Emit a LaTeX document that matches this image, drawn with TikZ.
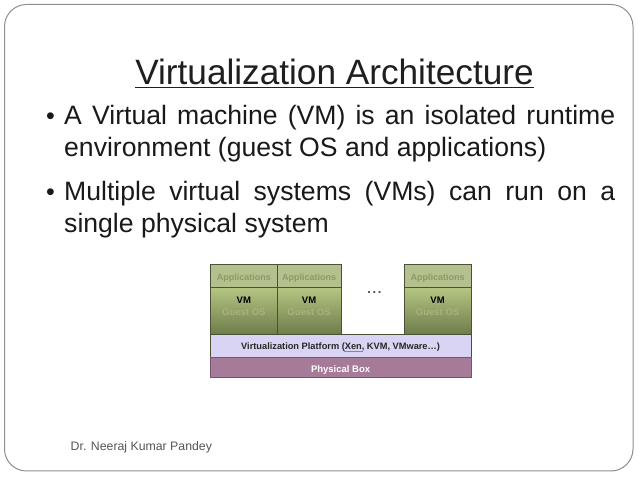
\documentclass[tikz,border=0pt]{standalone}
\usepackage{fontspec}
\setmainfont{Liberation Sans}
\definecolor{frameC}{HTML}{8E8E8E}
\definecolor{appC}{HTML}{B4C08E}
\definecolor{appT}{HTML}{8C9A66}
\definecolor{vmTop}{HTML}{B5C683}
\definecolor{vmBot}{HTML}{6E7C4A}
\definecolor{guestT}{HTML}{A8B380}
\definecolor{edgeC}{HTML}{4A5236}
\definecolor{platC}{HTML}{DAD4F4}
\definecolor{physC}{HTML}{A67A99}
\definecolor{footC}{HTML}{555555}
\newcommand{\lowtext}[2]{\raisebox{-#1pt}[0pt][0pt]{#2}}
\tikzset{
  appbox/.style={draw=edgeC,line width=.7pt,fill=appC,font=\bfseries\fontsize{9}{11}\selectfont,text=appT,anchor=north west,inner sep=0pt,align=center},
  vmbox/.style={draw=edgeC,line width=.7pt,top color=vmTop,bottom color=vmBot,anchor=north west,inner sep=0pt,align=center},
  bodytext/.style={anchor=north west,inner sep=0pt,text width=551pt,align=justify,font=\fontsize{26.6}{32}\selectfont,text=black!90},
  bulletmark/.style={anchor=base west,inner sep=0pt,font=\fontsize{25}{26}\selectfont,text=black!90},
}
\begin{document}
\begin{tikzpicture}[x=1pt,y=-1pt]
\useasboundingbox (0,0) rectangle (638,478);
\fill[white] (0,0) rectangle (638,478);
\draw[frameC,line width=1pt,rounded corners=22pt] (4.5,4.5) rectangle (633,471);
\node[anchor=base,inner sep=0pt,font=\fontsize{35.2}{40}\selectfont,text=black!88] (title) at (334.5,85) {\underline{Virtualization Architecture}};
\node[bulletmark] (b1) at (46,125) {•};
\node[bodytext] (t1) at (64,105) {A Virtual machine (VM) is an isolated runtime\linebreak environment (guest OS and applications)};
\node[bulletmark] (b2) at (46,201) {•};
\node[bodytext] (t2) at (64,181) {Multiple virtual systems (VMs) can run on a\linebreak single physical system};
% applications
\node[appbox,minimum width=67pt,minimum height=22.5pt] (a1) at (210,264.5) {\lowtext{4.5}{Applications}};
\node[appbox,minimum width=63.5pt,minimum height=22.5pt] (a2) at (277,264.5) {\lowtext{4.5}{Applications}};
\node[appbox,minimum width=66.5pt,minimum height=22.5pt] (a3) at (404,264.5) {\lowtext{4.5}{Applications}};
% vms
\node[vmbox,minimum width=67pt,minimum height=47pt] (v1) at (210,287) {};
\node[vmbox,minimum width=63.5pt,minimum height=47pt] (v2) at (277,287) {};
\node[vmbox,minimum width=66.5pt,minimum height=47pt] (v3) at (404,287) {};
\foreach \n in {v1,v2,v3}{
  \node[font=\bfseries\fontsize{9.5}{11}\selectfont,inner sep=0pt] (\n l) at ([yshift=-13pt]\n.north) {VM};
  \node[font=\bfseries\fontsize{9.5}{11}\selectfont,inner sep=0pt,text=guestT] (\n g) at ([yshift=-25pt]\n.north) {Guest OS};
}
\node[inner sep=0pt,font=\bfseries\fontsize{13}{13}\selectfont,text=black!70] (dots) at (374.5,293) {.\kern1.6pt.\kern1.6pt.};
% platform
\node[draw=edgeC,line width=.7pt,fill=platC,anchor=north west,inner sep=0pt,minimum width=260.5pt,minimum height=23.5pt,font=\bfseries\fontsize{9.25}{11}\selectfont,text=black!85] (plat) at (210,334) {\lowtext{3.8}{Virtualization Platform (Xen, KVM, VMware…)}};
\node[draw=physC!70!black,line width=.7pt,fill=physC,anchor=north west,inner sep=0pt,minimum width=260.5pt,minimum height=20pt,font=\bfseries\fontsize{9.5}{11}\selectfont,text=white] (phys) at (210,357.5) {\lowtext{4.5}{Physical Box}};
\coordinate (xenL) at (343.5,351.5);
\coordinate (xenR) at (363,351.5);
\draw[red!75!black,line width=.6pt,opacity=.5] (xenL) -- (xenR);
\node[anchor=base west,inner sep=0pt,font=\fontsize{12.3}{15}\selectfont,text=footC] (foot) at (70.5,451) {Dr. Neeraj Kumar Pandey};
\end{tikzpicture}
\end{document}
